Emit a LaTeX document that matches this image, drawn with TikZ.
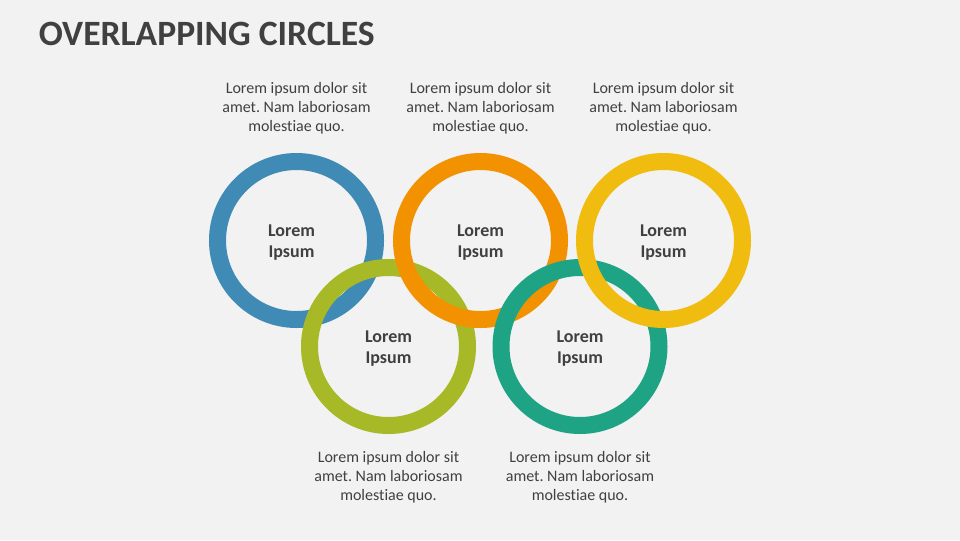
\documentclass[tikz,border=0pt]{standalone}
\usepackage{fontspec}
\setmainfont[Ligatures={NoCommon}]{Carlito}
\frenchspacing
\definecolor{bgc}{HTML}{F2F2F2}
\definecolor{txt}{HTML}{404040}
\definecolor{cblue}{HTML}{408BB5}
\definecolor{clime}{HTML}{A8B928}
\definecolor{corange}{HTML}{F39200}
\definecolor{cgreen}{HTML}{1FA385}
\definecolor{cyellow}{HTML}{F0BC0F}
\newcommand\myringtext{\rule{0pt}{12pt}Lorem\\Ipsum}
\newcommand\mydesctext{Lorem ipsum dolor sit\\amet. Nam laboriosam\\molestiae quo.}
\tikzset{
  ring/.style={circle, draw=#1, line width=12.75pt, minimum size=118.5pt, inner sep=0pt,
    align=center, text=txt, font=\bfseries\fontsize{13.5}{15.75}\selectfont},
  ringlabel/.style={align=center, text=txt, inner sep=0pt, font=\bfseries\fontsize{13.5}{15.75}\selectfont},
  desc/.style={align=center, text=txt, inner sep=0pt, font=\fontsize{12}{14.25}\selectfont},
}
\begin{document}
\begin{tikzpicture}[x=0.75pt,y=-0.75pt]
\fill[bgc] (0,0) rectangle (960,540);
\useasboundingbox (0,0) rectangle (960,540);
\node[anchor=base west, inner sep=0pt, text=txt, font=\bfseries\fontsize{26.7}{32}\selectfont] (title) at (38.5,45.5) {OVERLAPPING CIRCLES};
% rings, drawn in stacking order
\node[ring=cblue] (r1) at (296.5,240.5) {};
\node[ringlabel] (t1) at ([xshift=-3.75pt]r1.center) {\myringtext};
\node[ring=clime] (r2) at (388.5,346.5) {\myringtext};
\node[ring=corange] (r3) at (480.5,240.5) {\myringtext};
\node[ring=cgreen] (r4) at (580,346.5) {\myringtext};
\node[ring=cyellow] (r5) at (663.5,240.5) {\myringtext};
% descriptions
\node[desc] (d1) at (296.5,108) {\mydesctext};
\node[desc] (d3) at (480.5,108) {\mydesctext};
\node[desc] (d5) at (663.5,108) {\mydesctext};
\node[desc] (d2) at (388.5,477.5) {\mydesctext};
\node[desc] (d4) at (580,477.5) {\mydesctext};
\end{tikzpicture}
\end{document}
